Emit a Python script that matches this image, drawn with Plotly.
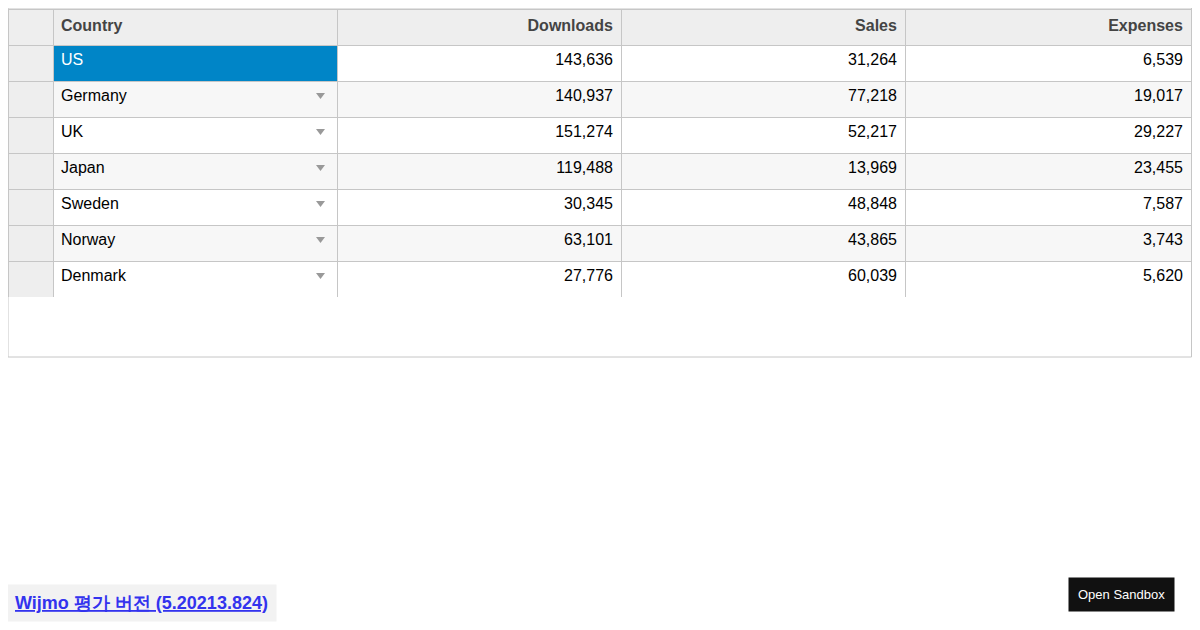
import plotly.graph_objects as go

countries = ["US", "Germany", "UK", "Japan", "Sweden", "Norway", "Denmark"]
downloads = [143636, 140937, 151274, 119488, 30345, 63101, 27776]
sales = [31264, 77218, 52217, 13969, 48848, 43865, 60039]
expenses = [6539, 19017, 29227, 23455, 7587, 3743, 5620]
headers = ["", "Country", "Downloads", "Sales", "Expenses"]

OFF = 8  # page body margin
W, H = 1200 - 2 * OFF, 630 - OFF
def px(x): return (x - OFF) / W
def py(y): return 1 - (y - OFF) / H

n = len(countries)
row_fill = ["#ffffff" if i % 2 == 0 else "#f7f7f7" for i in range(n)]
country_fill = ["#0085c7"] + row_fill[1:]
country_color = ["#ffffff"] + ["#000000"] * (n - 1)
fmt = lambda v: [f"{x:,}" for x in v]

table = go.Table(
    domain=dict(x=[px(8), px(1191)], y=[py(297), py(9)]),
    columnwidth=[45, 284, 284, 284, 286],
    header=dict(
        values=[f"<b>{h}</b>" for h in headers],
        fill_color="#eeeeee",
        line_color="#c6c6c6",
        align=["left", "left", "right", "right", "right"],
        font=dict(family="Liberation Sans, Arial", size=16, color="#444444"),
        height=36,
    ),
    cells=dict(
        values=[[""] * n, countries, fmt(downloads), fmt(sales), fmt(expenses)],
        fill_color=[["#eeeeee"] * n, country_fill, row_fill, row_fill, row_fill],
        line_color="#c6c6c6",
        align=["left", "left", "right", "right", "right"],
        font=dict(family="Liberation Sans, Arial", size=16,
                  color=[["#000"] * n, country_color, ["#000"] * n, ["#000"] * n, ["#000"] * n]),
        height=36,
    ),
)

fig = go.Figure(table)

shapes = [dict(type="rect", xref="paper", yref="paper", x0=px(8), x1=px(1191.5),
               y0=py(357), y1=py(8), line=dict(color="#c6c6c6", width=1),
               fillcolor="#ffffff", layer="below")]
for i in range(1, n):
    ya = 45 + 36 * i + 12
    shapes.append(dict(type="path", xref="paper", yref="paper",
                       path=f"M {px(316)} {py(ya)} L {px(325)} {py(ya)} L {px(320.5)} {py(ya + 6)} Z",
                       fillcolor="#999999", line=dict(width=0), layer="above"))
annotations = []
annotations.append(dict(x=px(6), y=py(622), xref="paper", yref="paper", xanchor="left",
                        text="<b><u>Wijmo 평가 버전 (5.20213.824)</u></b>", showarrow=False,
                        bgcolor="#f2f2f2", borderpad=8,
                        font=dict(family="Liberation Sans, Arial", size=18, color="#3333ee")))
annotations.append(dict(x=px(1121), y=py(612), xref="paper", yref="paper", xanchor="center",
                        text="Open Sandbox", showarrow=False, bgcolor="#111111", borderpad=9,
                        font=dict(family="Liberation Sans, Arial", size=13, color="#ffffff")))

fig.update_layout(width=W, height=H, margin=dict(l=0, r=0, t=0, b=0),
                  paper_bgcolor="#ffffff", shapes=shapes, annotations=annotations)
fig.write_html("out.html")
